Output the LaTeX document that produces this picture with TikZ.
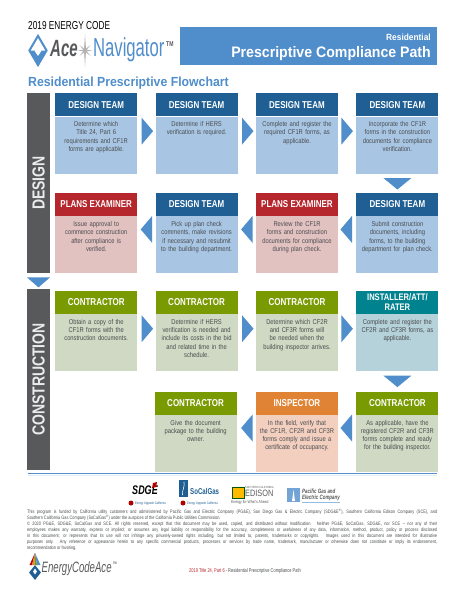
\documentclass[tikz,border=0pt]{standalone}
\usepackage{xcolor}
\usepackage{fontspec}
\usepackage{tikz}
\usetikzlibrary{
  arrows.meta,
  shapes.geometric,
  positioning,
  calc
}
\setmainfont{Liberation Sans}
\newfontfamily\widefont[FakeStretch=0.93]{Liberation Sans}
\newfontfamily\copyfont[FakeStretch=0.83]{Liberation Sans}
\newfontfamily\narrowfont[FakeStretch=0.8]{Liberation Sans}
\newfontfamily\finefont[FakeStretch=0.79]{Liberation Sans}
\newfontfamily\tightfont[FakeStretch=0.72]{Liberation Sans}
\newfontfamily\navfont[FakeStretch=0.64]{Liberation Sans}
\definecolor{ecBlue}{HTML}{1F5F93}
\definecolor{ecBlueLt}{HTML}{A8C6E4}
\definecolor{ecGreen}{HTML}{7A9A01}
\definecolor{ecGreenLt}{HTML}{CFD9C3}
\definecolor{ecRed}{HTML}{B5272D}
\definecolor{ecRedLt}{HTML}{E2C1C1}
\definecolor{ecTeal}{HTML}{00828F}
\definecolor{ecTealLt}{HTML}{B5D1D9}
\definecolor{ecOrange}{HTML}{E08335}
\definecolor{ecOrangeLt}{HTML}{F3CFC0}
\definecolor{ecSide}{HTML}{58595B}
\definecolor{ecArrow}{HTML}{4F8DCB}
\definecolor{ecText}{HTML}{4A4D4F}
\tikzset{
  headnode/.style={
    minimum width=82pt, minimum height=23pt, inner sep=0pt, align=center, text=white,
    font=\narrowfont\fontsize{10}{10}\selectfont\bfseries
  },
  bodynode/.style={
    minimum width=82pt, inner xsep=0.5pt, inner ysep=0pt, text width=81pt, align=center,
    text height=10pt, text depth=47pt, text=ecText,
    font=\copyfont\fontsize{7}{8.3}\selectfont
  },
  teamhead/.style={headnode, fill=ecBlue},
  teambody/.style={bodynode, fill=ecBlueLt},
  planhead/.style={headnode, fill=ecRed},
  planbody/.style={bodynode, fill=ecRedLt},
  conhead/.style={headnode, fill=ecGreen},
  conbody/.style={bodynode, fill=ecGreenLt},
  ratehead/.style={headnode, fill=ecTeal},
  ratebody/.style={bodynode, fill=ecTealLt},
  insphead/.style={headnode, fill=ecOrange},
  inspbody/.style={bodynode, fill=ecOrangeLt},
  sidebar/.style={
    fill=ecSide, text=white!92!black, minimum width=180pt, minimum height=23pt, inner sep=0pt,
    rotate=90, font=\narrowfont\fontsize{17.5}{17.5}\selectfont\bfseries
  },
  flowtri/.style={
    isosceles triangle, isosceles triangle stretches, fill=ecArrow, inner sep=0pt,
    minimum height=11.5pt, minimum width=27pt
  },
  triright/.style={flowtri},
  trileft/.style={flowtri, shape border rotate=180},
  tridown/.style={flowtri, shape border rotate=270},
  plaintext/.style={inner sep=0pt, anchor=base west},
  finetext/.style={inner sep=0pt, text=ecText, font=\finefont\fontsize{4.9}{6.1}\selectfont}
}
\begin{document}
\begin{tikzpicture}[x=1pt, y=-1pt]
  \useasboundingbox (0,0) rectangle (464,600);
  % title block
  \node[plaintext, font=\tightfont\fontsize{11.5}{11.5}\selectfont] (code) at (28,29) {2019 ENERGY CODE};
  \node[fill=ecArrow, minimum width=257pt, minimum height=38pt, inner sep=0pt, anchor=north west] (banner) at (180,27) {};
  \node[inner sep=0pt, anchor=base east, text=white, font=\widefont\fontsize{9}{9}\selectfont\bfseries] (kind) at (431,40) {Residential};
  \node[inner sep=0pt, anchor=base east, text=white, font=\widefont\fontsize{15.2}{15.2}\selectfont\bfseries] (path) at (431,57.5) {Prescriptive Compliance Path};
  \node[plaintext, text=ecArrow, font=\widefont\fontsize{13.2}{13.2}\selectfont\bfseries] (flow) at (28,86) {Residential Prescriptive Flowchart};
  % ace navigator mark
  \node[diamond, draw=ecArrow, line width=2pt, inner sep=0pt, minimum width=18pt, minimum height=30pt] (acemark) at (38,50.5) {};
  \fill[ecArrow] (30,50.5) -- (46,50.5) -- (38,64) -- cycle;
  \node[diamond, fill=white, inner sep=0pt, minimum width=7pt, minimum height=10pt] (acepip) at (38,51) {};
  \node[plaintext, text=ecSide, font=\navfont\fontsize{23.5}{23.5}\selectfont\bfseries\itshape] (ace) at (50,56) {Ace};
  \node[star, star points=8, star point ratio=4, fill=black!30, inner sep=0pt, minimum size=15pt] (acestar) at (85,50.5) {};
  \fill[black!30] (85,34) -- (86,50) -- (85,67) -- (84,50) -- cycle;
  \node[plaintext, text=ecArrow, font=\navfont\fontsize{26}{26}\selectfont] (nav) at (93,56) {Navigator};
  \node[plaintext, text=ecSide, font=\tightfont\fontsize{7}{7}\selectfont\bfseries] (navtm) at (166,46) {TM};
  % side bars
  \node[sidebar] (design) at (38.5,183) {DESIGN};
  \node[sidebar, minimum width=181pt] (build) at (38.5,379.5) {CONSTRUCTION};
  % first row
  \node[teamhead, anchor=north west] (h11) at (55,93) {DESIGN TEAM};
  \node[teambody, below=0pt of h11] (b11) {Determine which\\Title 24, Part 6\\requirements and CF1R\\forms are applicable.};
  \node[teamhead, right=18pt of h11] (h12) {DESIGN TEAM};
  \node[teambody, below=0pt of h12] (b12) {Determine if HERS\\verification is required.};
  \node[teamhead, right=18pt of h12] (h13) {DESIGN TEAM};
  \node[teambody, below=0pt of h13] (b13) {Complete and register the\\required CF1R forms, as\\applicable.};
  \node[teamhead, right=18pt of h13] (h14) {DESIGN TEAM};
  \node[teambody, below=0pt of h14] (b14) {Incorporate the CF1R\\forms in the construction\\documents for compliance\\verification.};
  % second row
  \node[planhead, below=19pt of b11] (h21) {PLANS EXAMINER};
  \node[planbody, below=0pt of h21] (b21) {Issue approval to\\commence construction\\after compliance is\\verified.};
  \node[teamhead, below=19pt of b12] (h22) {DESIGN TEAM};
  \node[teambody, below=0pt of h22] (b22) {Pick up plan check\\comments, make revisions\\if necessary and resubmit\\to the building department.};
  \node[planhead, below=19pt of b13] (h23) {PLANS EXAMINER};
  \node[planbody, below=0pt of h23] (b23) {Review the CF1R\\forms and construction\\documents for compliance\\during plan check.};
  \node[teamhead, below=19pt of b14] (h24) {DESIGN TEAM};
  \node[teambody, below=0pt of h24] (b24) {Submit construction\\documents, including\\forms, to the building\\department for plan check.};
  % third row
  \node[conhead, below=17pt of b21] (h31) {CONTRACTOR};
  \node[conbody, below=0pt of h31] (b31) {Obtain a copy of the\\CF1R forms with the\\construction documents.};
  \node[conhead, below=17pt of b22] (h32) {CONTRACTOR};
  \node[conbody, below=0pt of h32] (b32) {Determine if HERS\\verification is needed and\\include its costs in the bid\\and related time in the\\schedule.};
  \node[conhead, below=17pt of b23] (h33) {CONTRACTOR};
  \node[conbody, below=0pt of h33] (b33) {Determine which CF2R\\and CF3R forms will\\be needed when the\\building inspector arrives.};
  \node[ratehead, below=17pt of b24, font=\narrowfont\fontsize{9.5}{10}\selectfont\bfseries] (h34) {INSTALLER/ATT/\\RATER};
  \node[ratebody, below=0pt of h34] (b34) {Complete and register the\\CF2R and CF3R forms, as\\applicable.};
  % fourth row
  \node[conhead, below=20pt of b32, xshift=-1pt] (h42) {CONTRACTOR};
  \node[conbody, below=0pt of h42] (b42) {Give the document\\package to the building\\owner.};
  \node[insphead, below=20pt of b33] (h43) {INSPECTOR};
  \node[inspbody, below=0pt of h43] (b43) {In the field, verify that\\the CF1R, CF2R and CF3R\\forms comply and issue a\\certificate of occupancy.};
  \node[conhead, below=20pt of b34] (h44) {CONTRACTOR};
  \node[conbody, below=0pt of h44] (b44) {As applicable, have the\\registered CF2R and CF3R\\forms complete and ready\\for the building inspector.};
  % flow arrows
  \node[triright, right=4pt of b11, yshift=14pt] (t1) {};
  \node[triright, right=4pt of b12, yshift=14pt] (t2) {};
  \node[triright, right=3pt of b13, yshift=14pt] (t3) {};
  \node[tridown, below=4pt of b14, minimum width=28pt] (t4) {};
  \node[trileft, left=4pt of b24, yshift=15.5pt] (t5) {};
  \node[trileft, left=3pt of b23, yshift=15.5pt] (t6) {};
  \node[trileft, left=3pt of b22, yshift=15.5pt] (t7) {};
  \node[tridown, below=4pt of design.west, minimum width=23pt, minimum height=10pt] (t8) {};
  \node[triright, right=4pt of b31, yshift=14pt] (t9) {};
  \node[triright, right=4pt of b32, yshift=14pt] (t10) {};
  \node[triright, right=3pt of b33, yshift=14pt] (t11) {};
  \node[tridown, below=4pt of b34, minimum width=28pt] (t12) {};
  \node[trileft, left=4pt of b44, yshift=15.5pt] (t13) {};
  \node[trileft, left=3pt of b43, yshift=15.5pt] (t14) {};
  % rule under the chart
  \coordinate (ruleL) at (28,473.5);
  \coordinate (ruleR) at (437,473.5);
  \draw[ecArrow, line width=1.4pt] (ruleL) -- (ruleR);
  \draw[ecBlueLt!35, line width=1.4pt] ($(ruleL)+(0,2)$) -- ($(ruleR)+(0,2)$);
  % sponsor logos
  \node[inner sep=0pt, text=black, font=\tightfont\fontsize{12.5}{12.5}\selectfont\bfseries\itshape] (sdge) at (145,490) {SDGE};
  \fill[red!75!black] (153,483) -- (157,482) -- (156,487) -- (152,488) -- cycle;
  \node[fill=ecBlue, minimum width=9pt, minimum height=17pt, inner sep=0pt, anchor=north west] (scgmark) at (179,480) {};
  \draw[white, line width=0.6pt] (182.5,495) .. controls (182,490) and (185,487) .. (184,482);
  \node[plaintext, text=ecBlue, font=\tightfont\fontsize{8.5}{8.5}\selectfont\bfseries] (scg) at (190,494.5) {SoCalGas};
  \node[draw=green!35!black, fill=orange!55!yellow, line width=0.8pt, minimum width=12pt, minimum height=11pt, inner sep=0pt, anchor=north west] (scemark) at (231.5,486.5) {};
  \node[plaintext, text=ecSide, font=\narrowfont\fontsize{3}{3}\selectfont] (scetop) at (245,488.5) {SOUTHERN CALIFORNIA};
  \node[plaintext, text=ecSide, font=\narrowfont\fontsize{9.2}{9.2}\selectfont] (sce) at (245,496.5) {EDISON};
  \node[plaintext, text=ecSide, font=\narrowfont\fontsize{4.2}{4.2}\selectfont] (scetag) at (231,503) {Energy for What's Ahead};
  \node[fill=ecArrow!80, minimum width=13pt, minimum height=14pt, inner sep=0pt, anchor=north west] (pgemark) at (287,488) {};
  \fill[white] (293.5,490) -- (295,501) -- (292,501) -- cycle;
  \node[plaintext, text=ecSide, font=\tightfont\fontsize{6.2}{6.2}\selectfont\bfseries\itshape] (pgea) at (302,493.5) {Pacific Gas and};
  \node[plaintext, text=ecSide, font=\tightfont\fontsize{6.2}{6.2}\selectfont\bfseries\itshape] (pgeb) at (302,499.5) {Electric Company};
  \draw[ecArrow!60, line width=0.4pt] (pgeb.base west)+(0,3) -- +(38,3);
  \node[circle, fill=red!70!black, minimum size=5pt, inner sep=0pt] (ea1) at (131,503) {};
  \node[plaintext, text=ecBlue, font=\tightfont\fontsize{3.6}{3.6}\selectfont] (eat1) at (135,504) {Energy Upgrade California};
  \node[circle, fill=red!70!black, minimum size=5pt, inner sep=0pt] (ea2) at (183,503) {};
  \node[plaintext, text=ecBlue, font=\tightfont\fontsize{3.6}{3.6}\selectfont] (eat2) at (187,504) {Energy Upgrade California};
  % small print
  \node[finetext, anchor=north west, text width=410pt, align=justify] (fine) at (27,508.5) {This program is funded by California utility customers and administered by Pacific Gas and Electric Company (PG\&E), San Diego Gas \& Electric Company (SDG\&E\textsuperscript{®}), Southern California Edison Company (SCE), and\linebreak Southern California Gas Company (SoCalGas\textsuperscript{®}) under the auspices of the California Public Utilities Commission.\\
  © 2020 PG\&E, SDG\&E, SoCalGas and SCE. All rights reserved, except that this document may be used, copied, and distributed without modification. Neither PG\&E, SoCalGas, SDG\&E, nor SCE -- nor any of their\linebreak employees makes any warranty, express or implied; or assumes any legal liability or responsibility for the accuracy, completeness or usefulness of any data, information, method, product, policy or process disclosed\linebreak in this document; or represents that its use will not infringe any privately-owned rights including, but not limited to, patents, trademarks or copyrights. Images used in this document are intended for illustrative\linebreak purposes only. Any reference or appearance herein to any specific commercial products, processes or services by trade name, trademark, manufacturer or otherwise does not constitute or imply its endorsement,\linebreak recommendation or favoring.};
  % energy code ace mark and footer
  \node[diamond, fill=ecBlue, inner sep=0pt, minimum width=12pt, minimum height=15pt] (ecamark) at (35,572.5) {};
  \node[diamond, fill=white, inner sep=0pt, minimum width=4pt, minimum height=6pt] (ecapip) at (35,571.5) {};
  \fill[red!75!black] (29.5,565) -- (35,553) -- (32,565) -- cycle;
  \fill[ecOrange] (32,565) -- (35,553) -- (34.5,565) -- cycle;
  \fill[ecGreen] (34.5,565) -- (35,553) -- (37,565) -- cycle;
  \fill[ecArrow] (37,565) -- (35,553) -- (40.5,565) -- cycle;
  \node[plaintext, text=ecSide, font=\navfont\fontsize{15}{15}\selectfont\itshape] (eca) at (41.5,572.5) {EnergyCodeAce};
  \node[plaintext, text=ecSide, font=\tightfont\fontsize{3.5}{3.5}\selectfont\bfseries] (ecatm) at (113,564) {TM};
  \node[plaintext, text=ecText, font=\tightfont\fontsize{5.5}{5.5}\selectfont] (foot) at (189,572) {\textcolor{ecRed}{2019 Title 24, Part 6 -} Residential Prescriptive Compliance Path};
\end{tikzpicture}
\end{document}
